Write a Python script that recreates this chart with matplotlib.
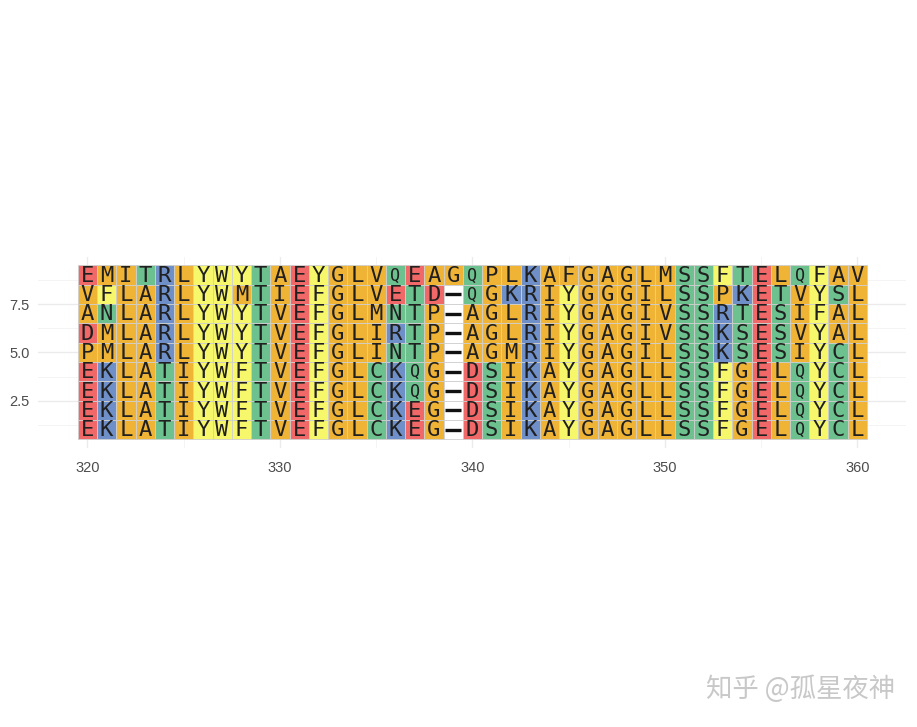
import matplotlib
matplotlib.use("Agg")
import matplotlib.pyplot as plt
from matplotlib.patches import Rectangle

# sequences, top row first (positions 320..360)
start_pos = 320
seqs = [
    "EMITRLYWYTAEYGLVQEAGQPLKAFGAGLMSSFTELQFAV",
    "VFLARLYWMTIEFGLVETD-QGKRIYGGGILSSPKETVYSL",
    "ANLARLYWYTVEFGLMNTP-AGLRIYGAGIVSSRTESIFAL",
    "DMLARLYWYTVEFGLIRTP-AGLRIYGAGIVSSKSESVYAL",
    "PMLARLYWYTVEFGLINTP-AGMRIYGAGILSSKSESIYCL",
    "EKLATIYWFTVEFGLCKQG-DSIKAYGAGLLSSFGELQYCL",
    "EKLATIYWFTVEFGLCKQG-DSIKAYGAGLLSSFGELQYCL",
    "EKLATIYWFTVEFGLCKEG-DSIKAYGAGLLSSFGELQYCL",
    "EKLATIYWFTVEFGLCKEG-DSIKAYGAGLLSSFGELQYCL",
]

# colour groups
groups = {
    "hydrophobic": "AVLIMGP",
    "polar": "STNQC",
    "basic": "KRH",
    "acidic": "DE",
    "aromatic": "FYW",
}
group_colors = {
    "hydrophobic": "#EFB336",
    "polar": "#6CC18E",
    "basic": "#6E8FC7",
    "acidic": "#F06868",
    "aromatic": "#F7F76C",
    "gap": "#FFFFFF",
}
# cells coloured differently from their residue group: (row, position) -> group
overrides = {(0, 345): "hydrophobic"}

x_ticks = [320, 330, 340, 350, 360]
y_ticks = [2.5, 5.0, 7.5]
y_ticklabels = ["2.5", "5.0", "7.5"]


def residue_group(aa):
    if aa == "-":
        return "gap"
    for g, letters in groups.items():
        if aa in letters:
            return g
    return "gap"


fig = plt.figure(figsize=(9.17, 7.27), dpi=100)
ax = fig.add_axes([0.0418, 0.3835, 0.9467, 0.2633])

n = len(seqs)
for i, s in enumerate(seqs):
    y = n - i
    for j, aa in enumerate(s):
        x = start_pos + j
        g = overrides.get((i, x), residue_group(aa))
        ax.add_patch(Rectangle((x - 0.5, y - 0.5), 1, 1, facecolor=group_colors[g],
                               edgecolor="#CFCFCF", linewidth=0.6, zorder=2))
        if aa == "-":
            ax.plot([x - 0.42, x + 0.42], [y, y], color="#111111", lw=2.4,
                    solid_capstyle="butt", zorder=3)
        else:
            # Q carries a tail, so it is drawn smaller to fit the tile
            size = 12 if aa == "Q" else 16
            ax.text(x, y - 0.02, aa, ha="center", va="center", fontsize=size,
                    family="DejaVu Sans Mono", color="#202020", zorder=3)

ax.set_xlim(317.45, 362.55)
ax.set_ylim(0.05, 9.95)
ax.set_xticks(x_ticks)
ax.set_xticks([325, 335, 345, 355], minor=True)
ax.set_yticks(y_ticks)
ax.set_yticklabels(y_ticklabels)
ax.set_yticks([1.25, 3.75, 6.25, 8.75], minor=True)
ax.grid(which="major", color="#EBEBEB", lw=1.0, zorder=0)
ax.grid(which="minor", color="#F2F2F2", lw=0.6, zorder=0)
ax.set_axisbelow(True)
for sp in ax.spines.values():
    sp.set_visible(False)
ax.tick_params(which="both", length=0)
ax.tick_params(axis="x", pad=9, labelsize=10.5, labelcolor="#4D4D4D")
ax.tick_params(axis="y", pad=6, labelsize=10.5, labelcolor="#4D4D4D")
for lab in ax.get_xticklabels() + ax.get_yticklabels():
    lab.set_family("Liberation Sans")

fig.text(895 / 917, 1 - 689 / 727, "知乎 @孤星夜神", ha="right", va="center",
         fontsize=19, color="#C8C8C8", family=["Noto Sans CJK SC", "DejaVu Sans"])

fig.savefig("out.png", dpi=100)
